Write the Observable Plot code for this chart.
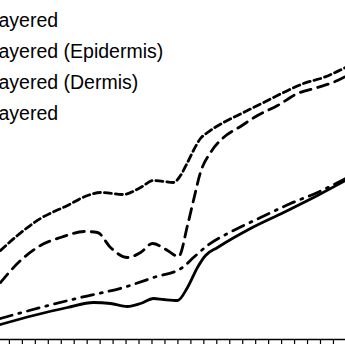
<!DOCTYPE html>
<html>
<head>
<meta charset="utf-8">
<script src="https://cdn.jsdelivr.net/npm/d3@7"></script>
<script src="https://cdn.jsdelivr.net/npm/@observablehq/plot@0.6"></script>
<style>
  html, body { margin: 0; padding: 0; background: #fff; }
  #chart { width: 345px; height: 345px; overflow: hidden; }
</style>
</head>
<body>
<div id="chart"></div>
<script>
// Legend labels (cropped in the reference)
const legendLabels = ["ayered", "ayered (Epidermis)", "ayered (Dermis)", "ayered"];

// Series (x in tick units, y in arbitrary units)
const solidX = [-0.69, 1.86, 4.48, 6.49, 7.80, 9.11, 10.12, 11.12, 11.89, 12.97, 13.74, 14.51, 15.13, 16.06, 18.60, 21.15, 23.77, 25.93];
const solidY = [15, 24, 32, 37, 36, 33, 36, 41, 40, 39, 52, 72, 84, 92, 111, 127, 144, 159];

const epidermisX = [-0.69, 0.86, 2.40, 3.94, 5.87, 6.80, 7.80, 9.11, 10.12, 11.04, 12.20, 13.05, 13.74, 14.20, 14.74, 15.52, 16.52, 17.83, 19.14, 20.69, 22.23, 23.77, 25.31, 25.93];
const epidermisY = [57, 79, 94, 102, 108, 107, 92, 82, 87, 96, 89, 83, 114, 139, 167, 187, 202, 213, 224, 234, 246, 252, 259, 263];

const dermisX = [-0.69, 0.62, 2.40, 4.48, 6.03, 7.03, 8.80, 10.12, 11.12, 12.66, 13.20, 13.74, 14.20, 14.74, 15.29, 16.52, 18.06, 19.61, 21.15, 22.69, 24.23, 25.93];
const dermisY = [89, 104, 121, 134, 144, 147, 145, 152, 159, 157, 164, 177, 189, 201, 207, 217, 227, 237, 247, 256, 262, 272];

const dashDotX = [-0.69, 2.40, 5.49, 8.80, 11.12, 13.36, 14.20, 15.29, 17.29, 19.38, 21.69, 23.77, 25.93];
const dashDotY = [21, 32, 42, 52, 62, 72, 82, 94, 109, 122, 136, 147, 161];

const tickValues = d3.range(0, 26);

const toRows = (xs, ys) => xs.map((x, i) => ({x, y: ys[i]}));

const lineOpts = {x: "x", y: "y", stroke: "black", strokeWidth: 2.8, curve: "monotone-x"};

const chart = Plot.plot({
  width: 345,
  height: 345,
  marginTop: 0,
  marginRight: 0,
  marginBottom: 6,
  marginLeft: 0,
  style: {fontFamily: "'Liberation Sans', Arial, sans-serif", background: "white"},
  x: {domain: [-0.687, 25.93], label: null},
  y: {domain: [0, 339], axis: null, label: null},
  marks: [
    Plot.axisX({ticks: tickValues, tickSize: 5, tickFormat: () => "", label: null, stroke: "black", strokeWidth: 1.2}),
    Plot.ruleY([0], {stroke: "black", strokeWidth: 1.3}),
    Plot.line(toRows(solidX, solidY), {...lineOpts}),
    Plot.line(toRows(dashDotX, dashDotY), {...lineOpts, strokeDasharray: "12,7,2,7"}),
    Plot.line(toRows(epidermisX, epidermisY), {...lineOpts, strokeDasharray: "11,7"}),
    Plot.line(toRows(dermisX, dermisY), {...lineOpts, strokeDasharray: "7,4"}),
    ...legendLabels.map((t, i) => Plot.text([t], {
      frameAnchor: "top-left", textAnchor: "start", lineAnchor: "top",
      dx: -2, dy: 12.5 + 31 * i, fontSize: 19.5, fill: "black"
    }))
  ]
});
document.getElementById("chart").appendChild(chart);
</script>
</body>
</html>
